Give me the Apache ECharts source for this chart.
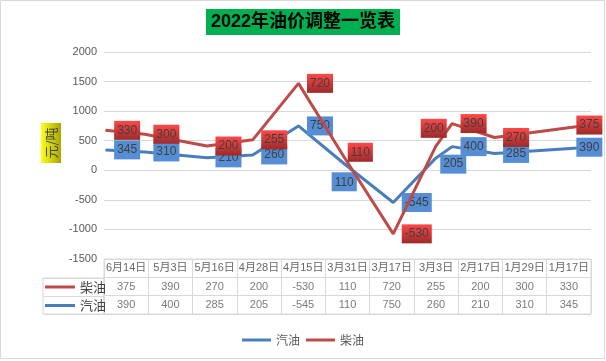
<!DOCTYPE html>
<html>
<head>
<meta charset="utf-8">
<script src="https://cdn.jsdelivr.net/npm/echarts@6/dist/echarts.min.js"></script>
<style>
html,body{margin:0;padding:0;background:#fff;}
#c{width:606px;height:361px;}
</style>
</head>
<body>
<div id="c"></div>
<script>
// ---- data (table order, as in the source sheet) ----
const categories = ['6月14日','5月3日','5月16日','4月28日','4月15日','3月31日','3月17日','3月3日','2月17日','1月29日','1月17日'];
const diesel   = [375, 390, 270, 200, -530, 110, 720, 255, 200, 300, 330];
const gasoline = [390, 400, 285, 205, -545, 110, 750, 260, 210, 310, 345];
const yMin = -1500, yMax = 2000, yStep = 500;
const year = 2022;

// ---- label placement styles (table order) ----
const gasLabelPos    = ['inside','right','right','right','right','bottom','right','right','right','right','right'];
const gasLabelOffset = [[0,0],[0,0],[0,0],[-4,6],[0,0],[0,0],[0,0],[0,0],[0,0],[0,0],[0,0]];
const dieLabelPos    = ['inside','right','right','top','right','right','right','right','right','right','right'];
const dieLabelOffset = [[0,0],[0,0],[0,0],[-2,0],[0,0],[-5,-5],[0,0],[0,0],[0,0],[0,0],[0,0]];

const FONT = "'Liberation Sans','Noto Sans CJK SC',sans-serif";
const CJK = "'Noto Sans CJK SC','Liberation Sans',sans-serif";

function toTime(s){
  const m = s.match(/(\d+)月(\d+)日/);
  return new Date(year, +m[1]-1, +m[2]).getTime();
}
const times = categories.map(toTime);
const order = categories.map((_, i) => i).sort((a, b) => times[a] - times[b]);
const halfDay = 12 * 3600 * 1000;
const tMin = times[order[0]] - halfDay;
const tMax = times[order[order.length-1]] + halfDay;

function seriesData(values, pos, off){
  return order.map(i => ({
    value: [times[i], values[i]],
    label: { position: pos[i], offset: off[i] }
  }));
}

const tableData = [];
categories.forEach((c, i) => {
  tableData.push({ value: [i, 2, c], label: { color: '#404040' } });
  tableData.push({ value: [i, 1, diesel[i]] });
  tableData.push({ value: [i, 0, gasoline[i]] });
});

const chart = echarts.init(document.getElementById('c'), null, { renderer: 'canvas' });
const redGrad = new echarts.graphic.LinearGradient(0, 0, 0, 1, [
  { offset: 0, color: '#FF4848' }, { offset: 1, color: '#9C2A2A' }
]);
const yellowGrad = new echarts.graphic.LinearGradient(0, 0, 1, 0, [
  { offset: 0, color: '#FFFF1A' }, { offset: 1, color: '#A6A600' }
]);

const baseLabel = {
  show: true,
  formatter: p => p.value[1],
  color: '#404040',
  fontSize: 12,
  fontFamily: FONT,
  lineHeight: 14,
  padding: [3, 3, 2, 3],
  distance: 8
};

chart.setOption({
  backgroundColor: '#fff',
  animation: false,
  title: {
    text: '2022年油价调整一览表',
    left: 'center',
    top: 9,
    backgroundColor: '#00B050',
    padding: [3, 5],
    textStyle: { fontSize: 18, fontWeight: 'bold', color: '#000', lineHeight: 20, fontFamily: FONT }
  },
  legend: [
    {
      data: ['汽油', '柴油'],
      left: 'center',
      top: 333,
      padding: 0,
      icon: 'rect',
      itemWidth: 29,
      itemHeight: 3,
      itemGap: 6,
      textStyle: { fontSize: 12, color: '#595959', fontFamily: CJK, lineHeight: 14 }
    },
    {
      data: ['柴油', '汽油'],
      orient: 'vertical',
      left: 45,
      top: 280,
      padding: 0,
      icon: 'rect',
      itemWidth: 30,
      itemHeight: 3,
      itemGap: 4.5,
      textStyle: { fontSize: 13, color: '#404040', lineHeight: 14, fontFamily: CJK }
    }
  ],
  grid: [
    { left: 104, width: 487, top: 52, height: 207 },
    { left: 104, width: 487, top: 259, height: 55, show: true, borderColor: '#D9D9D9', borderWidth: 1 },
    { left: 43, width: 61, top: 278, height: 36, show: true, borderColor: '#D9D9D9', borderWidth: 1 }
  ],
  xAxis: [
    { type: 'time', gridIndex: 0, min: tMin, max: tMax, show: false },
    {
      type: 'category', gridIndex: 1, data: categories,
      axisLine: { show: false }, axisTick: { show: false },
      axisLabel: { show: false, interval: 0 },
      splitLine: { show: true, interval: 0, lineStyle: { color: '#D9D9D9' } }
    },
    { type: 'category', gridIndex: 2, data: [''], show: false }
  ],
  yAxis: [
    {
      type: 'value', gridIndex: 0, min: yMin, max: yMax, interval: yStep,
      axisLine: { show: false }, axisTick: { show: false },
      axisLabel: { color: '#595959', fontSize: 11, margin: 7, fontFamily: FONT, formatter: v => String(v) },
      splitLine: { lineStyle: { color: '#D9D9D9' } }
    },
    {
      type: 'category', gridIndex: 1, data: ['汽油', '柴油', '日期'],
      axisLine: { show: false }, axisTick: { show: false },
      axisLabel: { show: false, interval: 0 },
      splitLine: { show: true, interval: 0, lineStyle: { color: '#D9D9D9' } }
    },
    {
      type: 'category', gridIndex: 2, data: ['汽油', '柴油'],
      axisLine: { show: false }, axisTick: { show: false },
      axisLabel: { show: false, interval: 0 },
      splitLine: { show: true, interval: 0, lineStyle: { color: '#D9D9D9' } }
    }
  ],
  series: [
    {
      name: '汽油', type: 'line', stack: 'total',
      xAxisIndex: 0, yAxisIndex: 0,
      symbol: 'circle', symbolSize: 1, showSymbol: true,
      lineStyle: { width: 3, color: '#4A7EBB' },
      itemStyle: { color: '#4A7EBB' },
      label: Object.assign({}, baseLabel, { backgroundColor: '#558ED5' }),
      emphasis: { disabled: true },
      z: 2,
      data: seriesData(gasoline, gasLabelPos, gasLabelOffset)
    },
    {
      name: '柴油', type: 'line', stack: 'total',
      xAxisIndex: 0, yAxisIndex: 0,
      symbol: 'circle', symbolSize: 1, showSymbol: true,
      lineStyle: { width: 3, color: '#BE4B48' },
      itemStyle: { color: '#BE4B48' },
      label: Object.assign({}, baseLabel, { backgroundColor: redGrad }),
      emphasis: { disabled: true },
      z: 3,
      data: seriesData(diesel, dieLabelPos, dieLabelOffset)
    },
    {
      name: '表格', type: 'scatter',
      xAxisIndex: 1, yAxisIndex: 1,
      symbolSize: 1, silent: true,
      itemStyle: { color: 'rgba(0,0,0,0)' },
      label: {
        show: true, position: 'inside',
        formatter: p => p.value[2],
        color: '#595959', fontSize: 11, fontFamily: FONT
      },
      data: tableData
    }
  ],
  graphic: [
    { type: 'rect', silent: true, z: -10, shape: { x: 0.5, y: 0.5, width: 604, height: 358 },
      style: { fill: null, stroke: '#D9D9D9', lineWidth: 1 } },
    { type: 'rect', silent: true, z: 10, shape: { x: 41, y: 123, width: 20, height: 40 },
      style: { fill: yellowGrad } },
    { type: 'text', silent: true, z: 11, x: 51, y: 143, rotation: Math.PI / 2,
      style: { text: '元/吨', fontSize: 13, fontFamily: CJK, fill: '#404040', align: 'center', verticalAlign: 'middle' } }
  ]
});
</script>
</body>
</html>
